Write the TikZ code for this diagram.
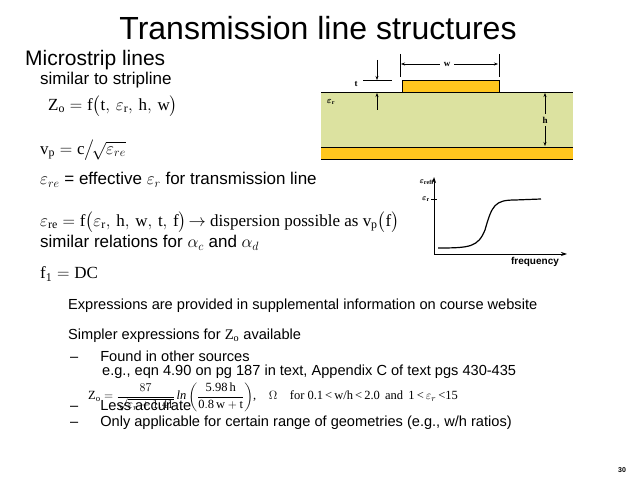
\documentclass[tikz,border=0pt]{standalone}
\usepackage{fontspec}
\setmainfont{Liberation Serif}
\setsansfont{Liberation Sans}
\usepackage{amsmath}
\usetikzlibrary{arrows.meta}
\definecolor{sub}{RGB}{220,226,160}
\definecolor{gold}{RGB}{255,198,30}
\begin{document}
\begin{tikzpicture}[x=1pt,y=-1pt,
  sans/.style={anchor=west,inner sep=0,font=\sffamily\fontsize{17}{19}\selectfont},
  small/.style={anchor=west,inner sep=0,font=\sffamily\fontsize{14.6}{16}\selectfont},
  ser/.style={anchor=west,inner sep=0,font=\rmfamily\fontsize{17}{19}\selectfont},
  lab/.style={inner sep=0,font=\sffamily\bfseries\fontsize{8}{9}\selectfont},
  dim/.style={-{Stealth[length=4pt,width=3pt]},line width=0.6pt}]
\useasboundingbox (0,0) rectangle (638,478);
\fill[white] (0,0) rectangle (638,478);
\node[inner sep=0,font=\sffamily\fontsize{32}{34}\selectfont] (title) at (318,28) {Transmission line structures};
\node[anchor=west,inner sep=0,font=\sffamily\fontsize{21}{22}\selectfont] (ms) at (25,60) {Microstrip lines};
\node[sans] (sim) at (40,80) {similar to stripline};
\node[ser] (z) at (48,106) {$\mathrm{Z_o=f\big(t,\,\varepsilon_r,\,h,\,w\big)}$};
\node[ser] (vp) at (40,150) {$\mathrm{v_p}=\mathrm{c}\big/\!\sqrt{\varepsilon_{re}}$};
\node[sans] (eff) at (40,180) {$\varepsilon_{re}$ = effective $\varepsilon_r$ for transmission line};
\node[ser] (disp) at (40,222) {$\mathrm{\varepsilon_{re}=f\big(\varepsilon_r,\,h,\,w,\,t,\,f\big)}\!\rightarrow$ dispersion possible as $\mathrm{v_p\big(f\big)}$};
\node[sans] (rel) at (40,243) {similar relations for $\alpha_c$ and $\alpha_d$};
\node[ser] (f1) at (40,274) {$\mathrm{f_1=DC}$};
\node[small] (expr) at (68,306) {Expressions are provided in supplemental information on course website};
\node[small] (simp) at (68,336) {Simpler expressions for $\mathrm{Z_o}$ available};
\node[small] (d1) at (70,356) {--\hspace{22pt}Found in other sources};
\node[small] (eg) at (102,372) {e.g., eqn 4.90 on pg 187 in text, Appendix C of text pgs 430-435};
\node[anchor=west,inner sep=0,font=\rmfamily\fontsize{12.5}{14}\selectfont] (form) at (88,397) {$\mathrm{Z_o}=\dfrac{87}{\sqrt{\varepsilon_r+1.41}}\,\mathit{ln}\left(\dfrac{\mathrm{5.98\,h}}{\mathrm{0.8\,w+t}}\right)$,\quad $\Omega$\quad for 0.1\,<\,w/h\,<\,2.0\, and\, 1\,<\,$\varepsilon_r$\,<15};
\node[small] (d2) at (70,406) {--\hspace{22pt}Less accurate};
\node[small] (d3) at (70,423) {--\hspace{22pt}Only applicable for certain range of geometries (e.g., w/h ratios)};
\node[inner sep=0,font=\sffamily\bfseries\fontsize{7}{8}\selectfont] (pg) at (622,470) {30};
% microstrip
\fill[sub] (321,92) rectangle (573,147);
\fill[gold] (321,147) rectangle (573,159);
\draw[line width=0.8pt] (321,92) -- (573,92) (321,147) -- (573,147) (321,159) -- (573,159);
\filldraw[fill=gold,line width=0.8pt] (402,92) rectangle (499,80);
\draw[line width=0.6pt] (400,54) -- (400,77) (499,54) -- (499,77) (363,80) -- (392,80);
\node[lab,font=\rmfamily\bfseries\fontsize{9}{9}\selectfont] (w) at (447,64) {w};
\draw[dim] (w.west) ++(-4,0) -- (401,64);
\draw[dim] (w.east) ++(4,0) -- (498,64);
\coordinate (t1) at (377,60); \coordinate (t2) at (377,80);
\coordinate (t3) at (377,110); \coordinate (t4) at (377,93);
\draw[dim] (t1) -- (t2); \draw[dim] (t3) -- (t4);
\node[lab,font=\rmfamily\bfseries\fontsize{9}{9}\selectfont] (t) at (356,84) {t};
\node[lab,font=\rmfamily\bfseries\fontsize{9}{9}\selectfont] (er) at (331,102) {$\boldsymbol{\varepsilon}_{\mathbf r}$};
\node[lab,font=\rmfamily\bfseries\fontsize{9}{9}\selectfont] (h) at (545,120) {h};
\draw[dim] (h.north) ++(0,-3) -- (545,93);
\draw[dim] (h.south) ++(0,3) -- (545,146);
% graph
\coordinate (o) at (434,254);
\coordinate (ytop) at (434,177);
\coordinate (xend) at (567,254);
\draw[line width=0.8pt,-{Stealth[length=6pt,width=4pt]}] (o) -- (ytop);
\draw[line width=0.8pt,-{Stealth[length=6pt,width=4pt]}] (o) -- (xend);
\draw[line width=0.6pt] (431,199) -- (437,199);
\draw[line width=1.2pt] (438,248) .. controls (470,248) and (478,247) .. (485,230)
  .. controls (492,205) and (495,200) .. (515,200) -- (541,199);
\node[lab,anchor=east] (ereff) at (434,182) {$\boldsymbol{\varepsilon}_{\mathbf{reff}}$};
\node[lab,anchor=east] (er2) at (430,199) {$\boldsymbol{\varepsilon}_{\mathbf r}$};
\node[lab,font=\sffamily\bfseries\fontsize{10}{10}\selectfont] (freq) at (535,262) {frequency};
\end{tikzpicture}
\end{document}
